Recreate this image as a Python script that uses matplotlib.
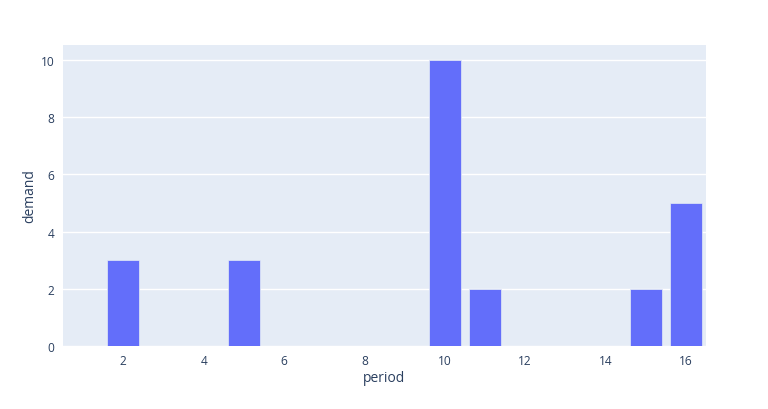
import matplotlib.pyplot as plt
import numpy as np

# demand per period
period = list(range(1, 17))
demand = [0, 3, 0, 0, 3, 0, 0, 0, 0, 10, 2, 0, 0, 0, 2, 5]

x_ticks = [2, 4, 6, 8, 10, 12, 14, 16]
y_ticks = [0, 2, 4, 6, 8, 10]

plt.rcParams['font.family'] = ['Open Sans', 'DejaVu Sans']
txt = '#2a3f5f'

fig = plt.figure(figsize=(7.68, 4.10), dpi=100)
ax = fig.add_axes([63/768, 1-347/410, (706-63)/768, (347-46)/410])
ax.set_facecolor('#E5ECF6')

ax.bar(period, demand, width=0.8, color='#636efa', edgecolor='#E5ECF6', linewidth=0.5, zorder=3)

ax.set_xlim(0.5, 16.5)
ax.set_ylim(0, 10.526)
ax.set_xticks(x_ticks)
ax.set_yticks(y_ticks)
ax.grid(axis='y', color='white', linewidth=1, zorder=0)
ax.set_axisbelow(True)
for s in ax.spines.values():
    s.set_visible(False)
ax.tick_params(length=0, labelsize=8.6, colors=txt, pad=6)
ax.set_xlabel('period', fontsize=10, color=txt, labelpad=2)
ax.set_ylabel('demand', fontsize=10, color=txt, labelpad=3)

fig.savefig('out.png', dpi=100)
